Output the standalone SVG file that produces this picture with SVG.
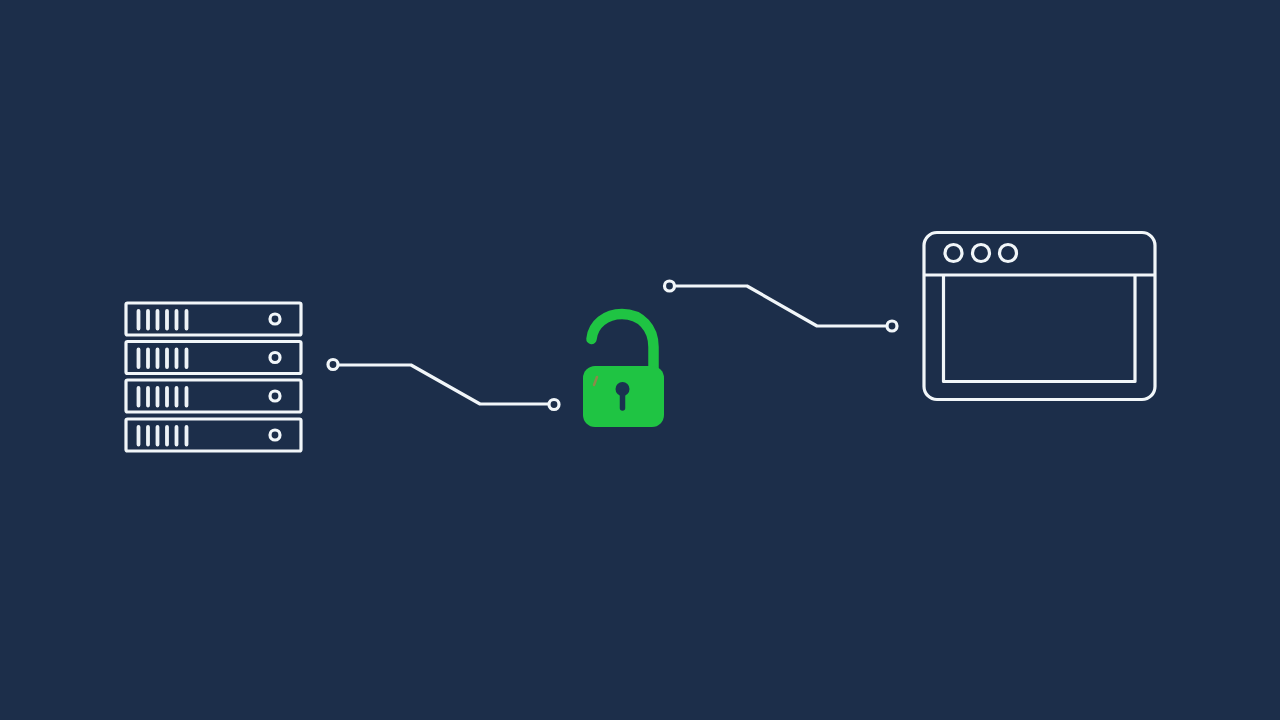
<svg xmlns="http://www.w3.org/2000/svg" width="1280" height="720" viewBox="0 0 1280 720">
<style>
.l{fill:none;stroke:#f1f6f9;stroke-width:3.2;stroke-linejoin:round}
.b{fill:none;stroke:#eef3f7;stroke-width:3.800;stroke-linecap:round}
.d{fill:#1c2e4a;stroke:#f1f6f9;stroke-width:3.200}
</style>
<defs>
<g id="unit">
<rect class="l" x="126" y="0" width="175" height="32" rx="1.500"/>
<path class="b" d="M138.500 8V25.500M148 8V25.500M157.500 8V25.500M167 8V25.500M176.500 8V25.500M186.500 8V25.500"/>
<circle class="l" cx="275" cy="16" r="5"/>
</g>
</defs>
<rect width="1280" height="720" fill="#1c2e4a"/>
<g id="server">
<use href="#unit" y="303"/>
<use href="#unit" y="341.500"/>
<use href="#unit" y="380"/>
<use href="#unit" y="419"/>
</g>
<g id="connectors">
<path class="l" d="M339 365H411L480 404H548"/>
<circle class="d" cx="333" cy="364.500" r="5"/>
<circle class="d" cx="554" cy="404.500" r="5"/>
<path class="l" d="M675 286H747L817 326H886"/>
<circle class="d" cx="669.500" cy="286" r="5"/>
<circle class="d" cx="892" cy="326" r="5"/>
</g>
<g id="lock">
<path d="M591.500 339C593 324 606 314 622 314C641 314 653.500 328 653.500 347V368" fill="none" stroke="#1fc443" stroke-width="10.500" stroke-linecap="round"/>
<rect x="583" y="366" width="81" height="61" rx="12" fill="#1fc443"/>
<circle cx="622.500" cy="389" r="7" fill="#1a3350"/>
<path d="M622.500 392V408" stroke="#1a3350" stroke-width="5.500" stroke-linecap="round"/>
<path d="M594 385L597 377" stroke="#8c8a4a" stroke-width="2.500" stroke-linecap="round"/>
</g>
<g id="browser">
<rect class="l" x="924" y="232.500" width="231" height="167" rx="13"/>
<path class="l" d="M925 275H1154"/>
<path class="l" d="M943.500 275V381.500H1135V275"/>
<circle class="l" cx="953.500" cy="253" r="8.500"/>
<circle class="l" cx="981" cy="253" r="8.500"/>
<circle class="l" cx="1008" cy="253" r="8.500"/>
</g>
</svg>
